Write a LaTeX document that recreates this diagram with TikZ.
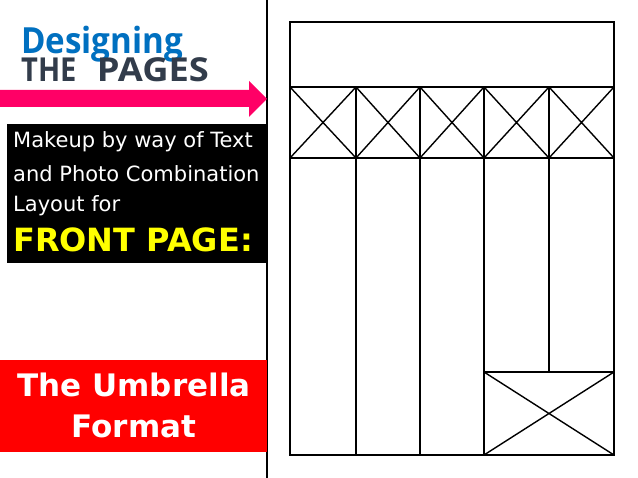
\documentclass[tikz,border=0pt]{standalone}
\usepackage{fontspec}
\setmainfont{DejaVu Sans}
\newfontfamily\tah{DejaVu Sans}
\newfontfamily\ttl[FakeStretch=0.92]{Open Sans}
\newfontfamily\ttn[FakeStretch=0.88]{Open Sans}
\newfontfamily\ttw[FakeStretch=1.1]{Open Sans}
\definecolor{arrowpink}{RGB}{255,0,102}
\definecolor{titleblue}{RGB}{0,112,192}
\definecolor{titlegray}{RGB}{50,60,75}
\definecolor{boxred}{RGB}{255,0,0}
\definecolor{txtyellow}{RGB}{255,255,0}
\tikzset{
  pline/.style={line width=2pt, black},
  cross/.style={line width=1.4pt, black},
  txt/.style={inner sep=0pt, anchor=base west},
}
\begin{document}
\begin{tikzpicture}[x=1pt,y=-1pt]
\useasboundingbox (0,0) rectangle (638,478);
\fill[white] (0,0) rectangle (638,478);
% divider
\draw[line width=1.3pt] (267,0) -- (267,478);
% arrow
\fill[arrowpink] (0,90) -- (249,90) -- (249,81) -- (267,99) -- (249,117) -- (249,107) -- (0,107) -- cycle;
% title
\node[txt, text=titleblue] (t1) at (21,54) {\ttl\bfseries\fontsize{36}{36}\selectfont Designing};
\node[txt, text=titlegray] (t2) at (21,82) {\bfseries\fontsize{33}{33}\selectfont{\ttn THE}\hspace{0.62em}{\ttw PAGES}};
% black box
\fill[black] (7,124) rectangle (267,263);
\node[txt, text=white] (m1) at (13,148) {\tah\fontsize{21}{21}\selectfont Makeup by way of Text};
\node[txt, text=white] (m2) at (13,182) {\tah\fontsize{21}{21}\selectfont and Photo Combination};
\node[txt, text=white] (m3) at (13,212) {\tah\fontsize{21}{21}\selectfont Layout for};
\node[txt, text=txtyellow] (m4) at (13,252) {\tah\bfseries\fontsize{32}{32}\selectfont FRONT PAGE:};
% red box
\fill[boxred] (0,360) rectangle (267,452);
\node[inner sep=0pt, anchor=base, text=white] (u1) at (134,397) {\tah\bfseries\fontsize{31}{31}\selectfont The Umbrella};
\node[inner sep=0pt, anchor=base, text=white] (u2) at (134,438) {\tah\bfseries\fontsize{31}{31}\selectfont Format};
% page layout
\draw[pline] (290,22) rectangle (614,455);
\draw[pline] (290,87) -- (614,87);
\draw[pline] (290,158) -- (614,158);
\foreach \x in {356,420,484} \draw[pline] (\x,87) -- (\x,455);
\draw[pline] (549,87) -- (549,372);
\foreach \a/\b in {290/356,356/420,420/484,484/549,549/614}
  \draw[cross] (\a,87) -- (\b,158) (\a,158) -- (\b,87);
\draw[pline] (484,372) -- (614,372);
\draw[cross] (484,372) -- (614,455) (484,455) -- (614,372);
\end{tikzpicture}
\end{document}
